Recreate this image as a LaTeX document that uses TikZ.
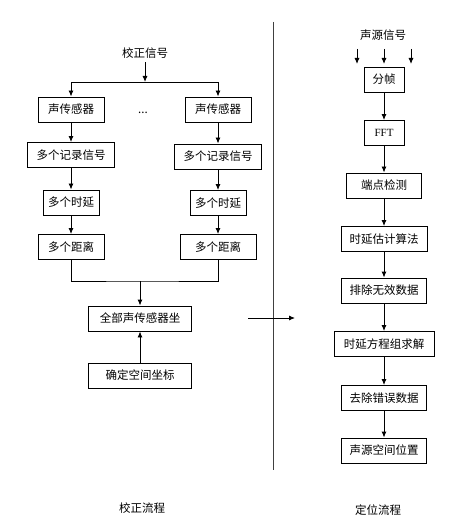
\documentclass[tikz,border=0pt]{standalone}
\usepackage{fontspec}
\setmainfont{Noto Sans CJK SC}
\newfontfamily\fftfont{Liberation Serif}
\usetikzlibrary{arrows.meta}

\begin{document}
\begin{tikzpicture}[x=1pt, y=-1pt, font=\fontsize{11.5}{13}\selectfont,
    line width=0.9pt,
    box/.style={draw, minimum height=25pt, inner sep=0pt},
    arr/.style={-{Latex[length=6pt,width=5pt]}}]
    \useasboundingbox (0,0) rectangle (474,526);
    %校正流程: 两列传感器
    \node (calsig) at (145,53) {校正信号};
    \coordinate (split) at (145,82);
    \node[box, minimum width=66pt] (sensorL) at (71,109.5) {声传感器};
    \node[box, minimum width=87pt] (recL) at (71,155) {多个记录信号};
    \node[box, minimum width=56pt] (delayL) at (71,202.5) {多个时延};
    \node[box, minimum width=66pt] (distL) at (71,247) {多个距离};
    \node[box, minimum width=66pt] (sensorR) at (218,109.5) {声传感器};
    \node[box, minimum width=87pt] (recR) at (218,156.5) {多个记录信号};
    \node[box, minimum width=56pt] (delayR) at (218,203) {多个时延};
    \node[box, minimum width=76pt] (distR) at (218,247) {多个距离};
    \node (dots) at (143,113) {...};
    \draw[arr] (calsig) -- (split);
    \draw[arr] (split) -| (sensorL);
    \draw[arr] (split) -| (sensorR);
    \foreach \a/\b in {sensorL/recL, recL/delayL, delayL/distL,
                       sensorR/recR, recR/delayR, delayR/distR}
      \draw[arr] (\a) -- (\b);
    % 汇总
    \coordinate (merge) at (140,281);
    \node[box, minimum width=103pt] (allpos) at (140,318.5) {全部声传感器坐};
    \node[box, minimum width=103pt] (spacepos) at (140,375.5) {确定空间坐标};
    \draw (distL) |- (merge) -| (distR);
    \draw[arr] (merge) -- (allpos);
    \draw[arr] (spacepos) -- (allpos);
    \node (calname) at (142,508) {校正流程};
    % 分隔线与过渡箭头
    \coordinate (divtop) at (273,22);
    \coordinate (divbot) at (273,470);
    \draw[black!75, line width=0.8pt] (divtop) -- (divbot);
    \coordinate (passA) at (248,318);
    \coordinate (passB) at (295,318);
    \draw[arr] (passA) -- (passB);
    % 定位流程
    \node (srcsig) at (383,35) {声源信号};
    \foreach \x [count=\k] in {357,384,411} {
      \coordinate (inA\k) at (\x,49);
      \coordinate (inB\k) at (\x,64);
      \draw[arr] (inA\k) -- (inB\k);
    }
    \node[box, minimum width=40pt] (frame) at (384,79.5) {分帧};
    \node[box, minimum width=40pt, font=\fftfont\fontsize{11}{13}\selectfont] (fft) at (384,133) {FFT};
    \node[box, minimum width=75pt] (endpt) at (384,185.5) {端点检测};
    \node[box, minimum width=86pt] (tde) at (384,239) {时延估计算法};
    \node[box, minimum width=85pt] (rmbad) at (384,290.5) {排除无效数据};
    \node[box, minimum width=100pt] (solve) at (384,344) {时延方程组求解};
    \node[box, minimum width=85pt] (rmerr) at (384,398) {去除错误数据};
    \node[box, minimum width=85pt] (srcpos) at (384,450.5) {声源空间位置};
    \foreach \a/\b in {frame/fft, fft/endpt, endpt/tde, tde/rmbad,
                       rmbad/solve, solve/rmerr, rmerr/srcpos}
      \draw[arr] (\a) -- (\b);
    \node (locname) at (378,510) {定位流程};
\end{tikzpicture}
\end{document}
